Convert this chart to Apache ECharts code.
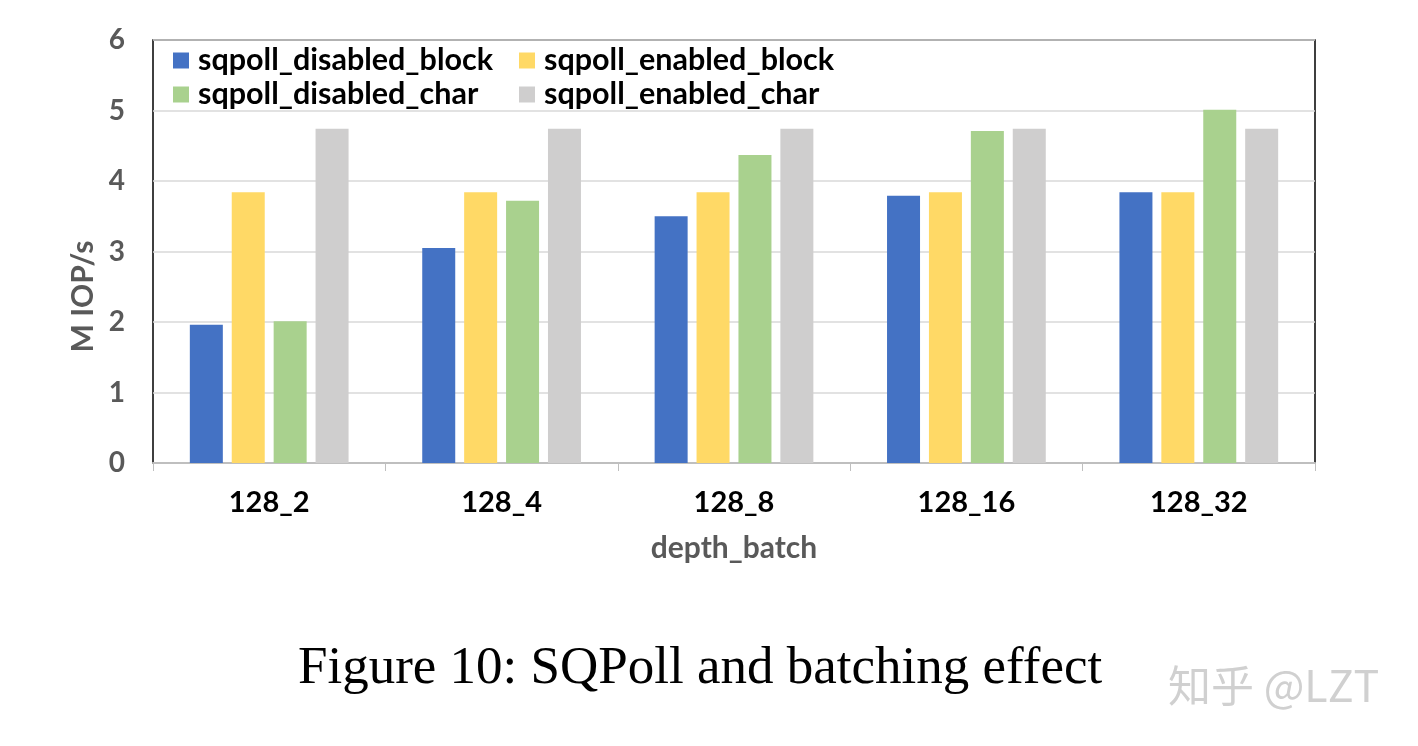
<!DOCTYPE html>
<html>
<head>
<meta charset="utf-8">
<script src="https://cdn.jsdelivr.net/npm/echarts@6/dist/echarts.min.js"></script>
<style>
html,body{margin:0;padding:0;background:#fff;}
#c{width:1418px;height:746px;}
</style>
</head>
<body>
<div id="c"></div>
<script>
const categories = ['128_2', '128_4', '128_8', '128_16', '128_32'];
const seriesNames = ['sqpoll_disabled_block', 'sqpoll_enabled_block', 'sqpoll_disabled_char', 'sqpoll_enabled_char'];
const disabledBlock = [1.96, 3.05, 3.50, 3.79, 3.84];
const enabledBlock = [3.84, 3.84, 3.84, 3.84, 3.84];
const disabledChar = [2.01, 3.72, 4.37, 4.71, 5.01];
const enabledChar = [4.74, 4.74, 4.74, 4.74, 4.74];
const yTicks = [0, 1, 2, 3, 4, 5, 6];
const colors = ['#4472C4', '#FFD966', '#A9D18E', '#CFCECE'];
const values = [disabledBlock, enabledBlock, disabledChar, enabledChar];

const chart = echarts.init(document.getElementById('c'));
const legendText = {fontFamily: 'Lato', fontWeight: 'bold', fontSize: 30.5, lineHeight: 30, color: '#000', padding: [0, 0, 0, 4]};
chart.setOption({
  animation: false,
  grid: {left: 153, right: 103, top: 40, bottom: 283, show: true, borderColor: '#000', borderWidth: 1.5, backgroundColor: 'transparent'},
  legend: [
    {data: [seriesNames[0], seriesNames[2]], orient: 'vertical', left: 173, top: 45, itemWidth: 16, itemHeight: 16, itemGap: 3, textStyle: legendText, icon: 'rect', padding: 0},
    {data: [seriesNames[1], seriesNames[3]], orient: 'vertical', left: 519, top: 45, itemWidth: 16, itemHeight: 16, itemGap: 3, textStyle: legendText, icon: 'rect', padding: 0}
  ],
  xAxis: {
    type: 'category',
    data: categories,
    name: 'depth_batch',
    nameLocation: 'middle',
    nameGap: 70,
    nameTextStyle: {fontFamily: 'Lato', fontWeight: 'bold', fontSize: 30, color: '#595959'},
    axisLine: {lineStyle: {color: '#BFBFBF', width: 2}},
    axisTick: {show: true, length: 8, lineStyle: {color: '#BFBFBF'}},
    axisLabel: {fontFamily: 'Lato', fontWeight: 'bold', fontSize: 29, color: '#000', margin: 25}
  },
  yAxis: {
    type: 'value',
    min: yTicks[0],
    max: yTicks[yTicks.length - 1],
    interval: 1,
    name: 'M IOP/s',
    nameLocation: 'middle',
    nameGap: 53,
    nameTextStyle: {fontFamily: 'Lato', fontWeight: 'bold', fontSize: 30, color: '#595959', padding: [0, 90, 0, 0]},
    axisLine: {show: false},
    axisTick: {show: false},
    axisLabel: {fontFamily: 'Lato', fontWeight: 'bold', fontSize: 28, color: '#595959', margin: 28},
    splitLine: {lineStyle: {color: '#D9D9D9', width: 1.5}}
  },
  series: seriesNames.map((n, i) => ({
    name: n,
    type: 'bar',
    data: values[i],
    itemStyle: {color: colors[i]},
    barWidth: 33,
    barGap: '27%'
  })),
  graphic: [
    {type: 'text', left: 298, top: 643, style: {text: 'Figure 10: SQPoll and batching effect', font: '53px "Liberation Serif"', fill: '#000'}, z: 100},
    {type: 'text', left: 1168, top: 664, style: {text: '知乎 @LZT', font: '43px "Noto Sans CJK SC"', fill: '#D0D0D0', shadowColor: 'rgba(0,0,0,0.35)', shadowOffsetX: 1, shadowOffsetY: 1, shadowBlur: 1}, z: 100}
  ]
});
</script>
</body>
</html>
